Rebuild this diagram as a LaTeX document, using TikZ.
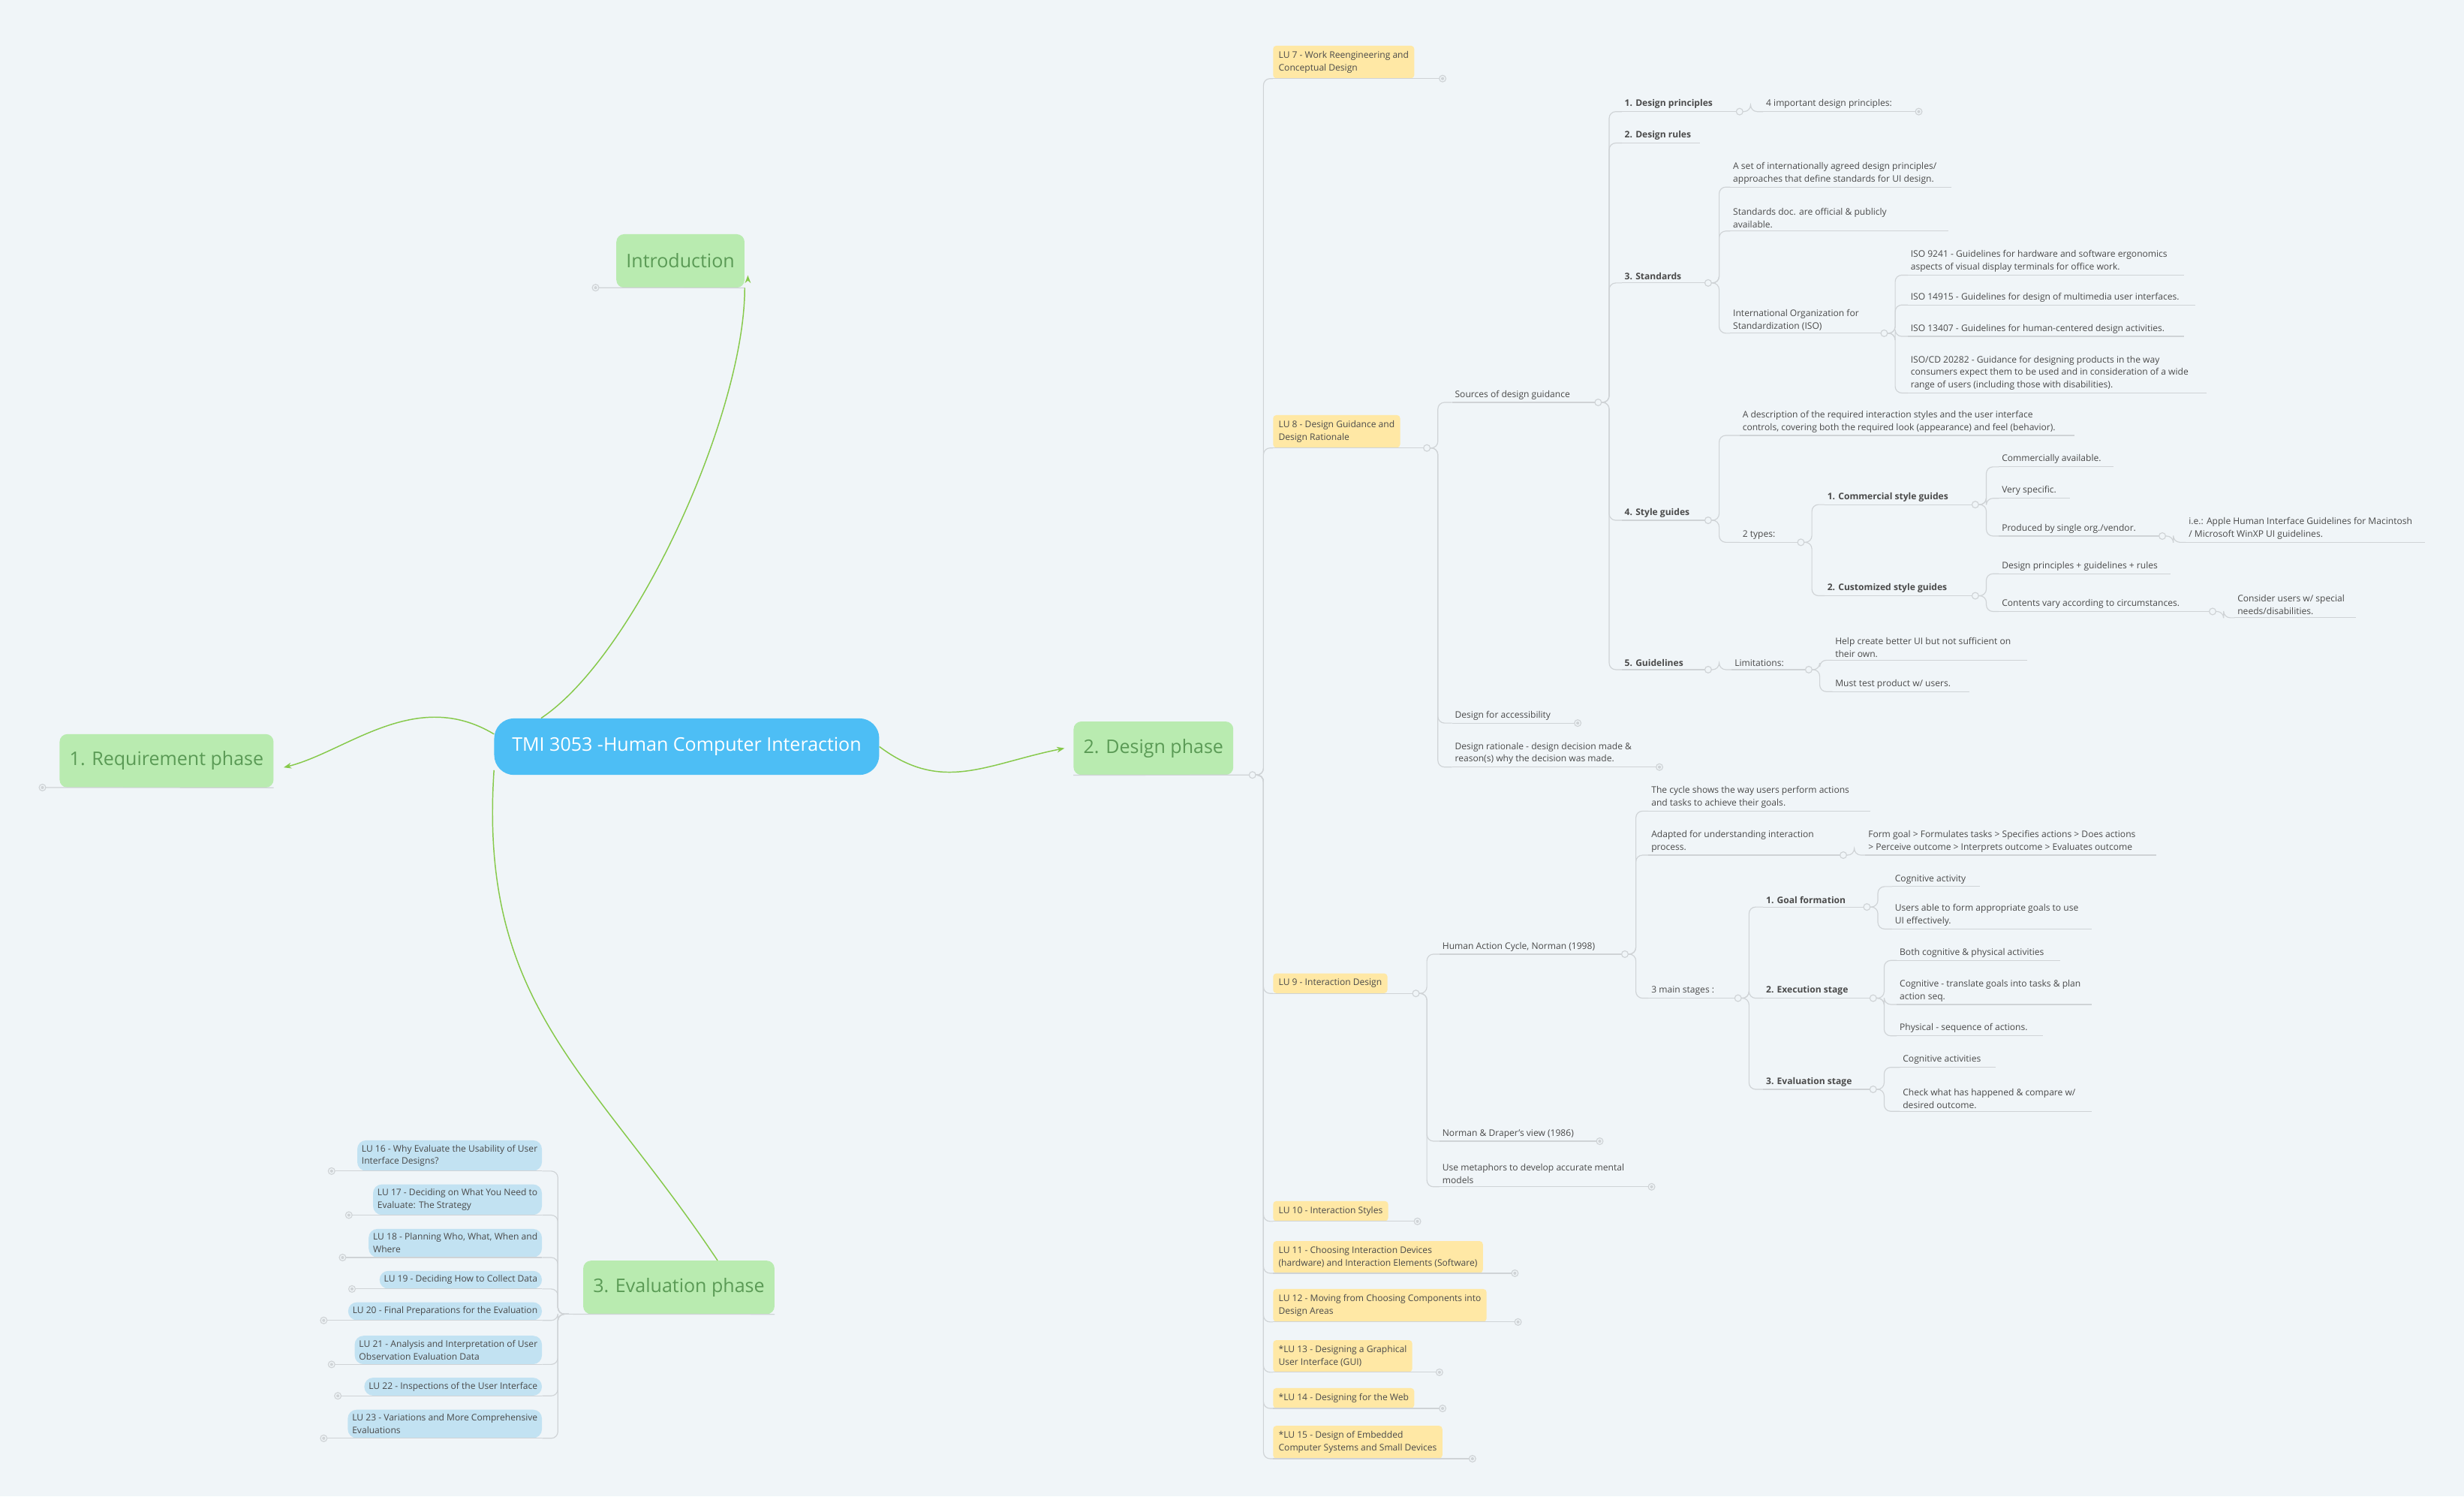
\documentclass[tikz,border=0pt]{standalone}
\usepackage{fontspec}
\setmainfont{Open Sans}
\usetikzlibrary{arrows.meta}
\definecolor{bgc}{HTML}{F0F5F8}
\definecolor{linec}{HTML}{CFD3D6}
\definecolor{greenf}{HTML}{B9EBB0}
\definecolor{greent}{HTML}{5A9A55}
\definecolor{yellowf}{HTML}{FFE8A5}
\definecolor{bluef}{HTML}{C2E2F2}
\definecolor{centf}{HTML}{4DBEF5}
\definecolor{branch}{HTML}{86C94A}
\definecolor{txt}{HTML}{4A4A4A}
\tikzset{
  leaf/.style={anchor=south west, align=left, inner sep=2.5, text=txt, font=\fontsize{8.2}{11.4}\selectfont},
  hd/.style={leaf, font=\fontsize{8.2}{11.4}\selectfont\bfseries},
  lu/.style={leaf, fill=yellowf, rounded corners=3, inner sep=5},
  ev/.style={anchor=south east, align=left, inner sep=4, text=txt, fill=bluef, rounded corners=8, font=\fontsize{8.2}{11.4}\selectfont},
  phase/.style={fill=greenf, text=greent, rounded corners=7, minimum height=17mm, inner xsep=9, font=\fontsize{17}{20}\selectfont},
  uline/.style={draw=linec, line width=0.8},
  conn/.style={draw=linec, line width=0.8, rounded corners=6},
  green line/.style={draw=branch, line width=1},
  knob/.style={circle, draw=linec, fill=bgc, line width=0.8, inner sep=0, minimum size=6},
  knobc/.style={knob, path picture={\fill[linec] (path picture bounding box.center) circle (1);}}
}
% topic: name, x, underline y, end x, style, text
\newcommand\topic[6]{\node[#5] (#1) at (#2,#3) {#6};
  \draw[uline] (#1.south west) -- (#4,#3);
  \coordinate (#1-e) at (#4,#3);}
\newcommand\ltopic[5]{\node[ev] (#1) at (#2,#3) {#5};
  \draw[uline] (#1.south east) -- (#4,#3);
  \coordinate (#1-e) at (#4,#3);}
\newcommand\link[2]{\draw[conn] (#1-e) -- ++(7,0) |- (#2.south west);}
\newcommand\llink[2]{\draw[conn] (#1-e) -- ++(-7,0) |- (#2.south east);}
\begin{document}
\begin{tikzpicture}[x=0.5mm, y=-0.5mm]
\fill[bgc] (0,0) rectangle (1568,952);
\useasboundingbox (0,0) rectangle (1568,952);

% main topics
\node[fill=centf, text=white, rounded corners=18, minimum width=245*0.5mm, minimum height=36*0.5mm,
  font=\fontsize{17}{20}\selectfont] (root) at (437,475) {TMI 3053 -Human Computer Interaction};
\node[phase] (intro) at (433,166) {Introduction};
\node[phase] (req) at (106,484) {1. Requirement phase};
\node[phase] (des) at (734,476) {2. Design phase};
\node[phase] (eval) at (432,819) {3. Evaluation phase};
\draw[uline] (379,183) -- (intro.south east);
\draw[uline] (27,501) -- (req.south east);
\draw[uline] (des.south west) -- (797,493);
\draw[uline] (360,836) -- (eval.south east);
\coordinate (des-e) at (797,493);
\coordinate (eval-e) at (362,836);

\draw[green line, -{Stealth[length=7]}] (root.north west) ++(30,0) .. controls +(60,-40) and +(0,80) .. (intro.south east) ++(2,-8);
\draw[green line, -{Stealth[length=7]}] (root.west) ++(0,-8) .. controls +(-50,-30) and +(40,-10) .. ([xshift=9,yshift=-6]req.east);
\draw[green line, -{Stealth[length=7]}] (root.east) .. controls +(40,30) and +(-50,10) .. ([xshift=-8]des.west);
\draw[green line] (root.west) ++(0,15) .. controls +(-10,150) and +(-80,-120) .. ([xshift=35]eval.north);

% design phase
\topic{lu7}{810}{50}{918}{lu}{LU 7 - Work Reengineering and\\Conceptual Design}
\topic{lu8}{810}{285}{908}{lu}{LU 8 - Design Guidance and\\Design Rationale}
\topic{lu9}{810}{632}{901}{lu}{LU 9 - Interaction Design}
\topic{lu10}{810}{777}{902}{lu}{LU 10 - Interaction Styles}
\topic{lu11}{810}{810}{964}{lu}{LU 11 - Choosing Interaction Devices\\(hardware) and Interaction Elements (Software)}
\topic{lu12}{810}{841}{966}{lu}{LU 12 - Moving from Choosing Components into\\Design Areas}
\topic{lu13}{810}{873}{916}{lu}{*LU 13 - Designing a Graphical\\User Interface (GUI)}
\topic{lu14}{810}{896}{918}{lu}{*LU 14 - Designing for the Web}
\topic{lu15}{810}{928}{937}{lu}{*LU 15 - Design of Embedded\\Computer Systems and Small Devices}
\foreach \c in {lu7,lu8,lu9,lu10,lu11,lu12,lu13,lu14,lu15} {\link{des}{\c}}

% LU 8
\topic{src}{924}{256}{1017}{leaf}{Sources of design guidance}
\topic{acc}{924}{460}{1004}{leaf}{Design for accessibility}
\topic{rat}{924}{488}{1056}{leaf}{Design rationale - design decision made \&\\reason(s) why the decision was made.}
\foreach \c in {src,acc,rat} {\link{lu8}{\c}}

\topic{dp}{1032}{71}{1107}{hd}{1. Design principles}
\topic{four}{1122}{71}{1221}{leaf}{4 important design principles:}
\link{dp}{four}
\topic{dr}{1032}{91}{1082}{hd}{2. Design rules}
\topic{std}{1032}{180}{1087}{hd}{3. Standards}
\topic{sg}{1032}{331}{1087}{hd}{4. Style guides}
\topic{gl}{1032}{426}{1087}{hd}{5. Guidelines}
\foreach \c in {dp,dr,std,sg,gl} {\link{src}{\c}}

\topic{set}{1101}{119}{1242}{leaf}{A set of internationally agreed design principles/\\approaches that define standards for UI design.}
\topic{doc}{1101}{147}{1240}{leaf}{Standards doc. are official \& publicly\\available.}
\topic{iso}{1101}{212}{1199}{leaf}{International Organization for\\Standardization (ISO)}
\foreach \c in {set,doc,iso} {\link{std}{\c}}
\topic{isoa}{1214}{175}{1390}{leaf}{ISO 9241 - Guidelines for hardware and software ergonomics\\aspects of visual display terminals for office work.}
\topic{isob}{1214}{194}{1397}{leaf}{ISO 14915 - Guidelines for design of multimedia user interfaces.}
\topic{isoc}{1214}{214}{1390}{leaf}{ISO 13407 - Guidelines for human-centered design activities.}
\topic{isod}{1214}{250}{1404}{leaf}{ISO/CD 20282 - Guidance for designing products in the way\\consumers expect them to be used and in consideration of a wide\\range of users (including those with disabilities).}
\foreach \c in {isoa,isob,isoc,isod} {\link{iso}{\c}}

\topic{sgd}{1107}{277}{1320}{leaf}{A description of the required interaction styles and the user interface\\controls, covering both the required look (appearance) and feel (behavior).}
\topic{two}{1107}{345}{1146}{leaf}{2 types:}
\foreach \c in {sgd,two} {\link{sg}{\c}}
\topic{com}{1161}{321}{1257}{hd}{1. Commercial style guides}
\topic{cus}{1161}{379}{1257}{hd}{2. Customized style guides}
\foreach \c in {com,cus} {\link{two}{\c}}
\topic{coma}{1272}{297}{1345}{leaf}{Commercially available.}
\topic{comb}{1272}{317}{1317}{leaf}{Very specific.}
\topic{comc}{1272}{341}{1376}{leaf}{Produced by single org./vendor.}
\foreach \c in {coma,comb,comc} {\link{com}{\c}}
\topic{apple}{1391}{345}{1543}{leaf}{i.e.: Apple Human Interface Guidelines for Macintosh\\/ Microsoft WinXP UI guidelines.}
\link{comc}{apple}
\topic{cusa}{1272}{365}{1381}{leaf}{Design principles + guidelines + rules}
\topic{cusb}{1272}{389}{1408}{leaf}{Contents vary according to circumstances.}
\foreach \c in {cusa,cusb} {\link{cus}{\c}}
\topic{spec}{1422}{393}{1499}{leaf}{Consider users w/ special\\needs/disabilities.}
\link{cusb}{spec}

\topic{lim}{1102}{426}{1151}{leaf}{Limitations:}
\link{gl}{lim}
\topic{lima}{1166}{420}{1290}{leaf}{Help create better UI but not sufficient on\\their own.}
\topic{limb}{1166}{440}{1253}{leaf}{Must test product w/ users.}
\foreach \c in {lima,limb} {\link{lim}{\c}}

% LU 9
\topic{hac}{916}{607}{1034}{leaf}{Human Action Cycle, Norman (1998)}
\topic{nd}{916}{726}{1018}{leaf}{Norman \& Draper's view (1986)}
\topic{meta}{916}{755}{1051}{leaf}{Use metaphors to develop accurate mental\\models}
\foreach \c in {hac,nd,meta} {\link{lu9}{\c}}
\topic{cyc}{1049}{516}{1190}{leaf}{The cycle shows the way users perform actions\\and tasks to achieve their goals.}
\topic{adp}{1049}{544}{1173}{leaf}{Adapted for understanding interaction\\process.}
\topic{three}{1049}{635}{1106}{leaf}{3 main stages :}
\foreach \c in {cyc,adp,three} {\link{hac}{\c}}
\topic{form}{1187}{544}{1372}{leaf}{Form goal > Formulates tasks > Specifies actions > Does actions\\> Perceive outcome > Interprets outcome > Evaluates outcome}
\link{adp}{form}
\topic{gf}{1122}{577}{1188}{hd}{1. Goal formation}
\topic{es}{1122}{635}{1192}{hd}{2. Execution stage}
\topic{evs}{1122}{693}{1192}{hd}{3. Evaluation stage}
\foreach \c in {gf,es,evs} {\link{three}{\c}}
\topic{gfa}{1204}{564}{1260}{leaf}{Cognitive activity}
\topic{gfb}{1204}{591}{1331}{leaf}{Users able to form appropriate goals to use\\UI effectively.}
\foreach \c in {gfa,gfb} {\link{gf}{\c}}
\topic{esa}{1207}{611}{1311}{leaf}{Both cognitive \& physical activities}
\topic{esb}{1207}{639}{1331}{leaf}{Cognitive - translate goals into tasks \& plan\\action seq.}
\topic{esc}{1207}{659}{1300}{leaf}{Physical - sequence of actions.}
\foreach \c in {esa,esb,esc} {\link{es}{\c}}
\topic{eva}{1209}{679}{1270}{leaf}{Cognitive activities}
\topic{evb}{1209}{707}{1331}{leaf}{Check what has happened \& compare w/\\desired outcome.}
\foreach \c in {eva,evb} {\link{evs}{\c}}

% evaluation phase
\ltopic{lu16}{345}{745}{211}{LU 16 - Why Evaluate the Usability of User\\Interface Designs?}
\ltopic{lu17}{345}{773}{222}{LU 17 - Deciding on What You Need to\\Evaluate: The Strategy}
\ltopic{lu18}{345}{800}{218}{LU 18 - Planning Who, What, When and\\Where}
\ltopic{lu19}{345}{820}{224}{LU 19 - Deciding How to Collect Data}
\ltopic{lu20}{345}{840}{206}{LU 20 - Final Preparations for the Evaluation}
\ltopic{lu21}{345}{868}{211}{LU 21 - Analysis and Interpretation of User\\Observation Evaluation Data}
\ltopic{lu22}{345}{888}{215}{LU 22 - Inspections of the User Interface}
\ltopic{lu23}{345}{915}{206}{LU 23 - Variations and More Comprehensive\\Evaluations}
\foreach \c in {lu16,lu17,lu18,lu19,lu20,lu21,lu22,lu23} {\llink{eval}{\c}}

% knobs
\foreach \c in {des,lu8,lu9,src,dp,std,iso,sg,two,com,comc,cus,cusb,gl,lim,hac,adp,three,gf,es,evs}
  {\node[knob] at (\c-e) {};}
\foreach \c in {lu7,lu10,lu11,lu12,lu13,lu14,lu15,four,acc,rat,nd,meta,
  lu16,lu17,lu18,lu19,lu20,lu21,lu22,lu23}
  {\node[knobc] at (\c-e) {};}
\node[knobc] at (379,183) {};
\node[knobc] at (27,501) {};
\end{tikzpicture}
\end{document}
